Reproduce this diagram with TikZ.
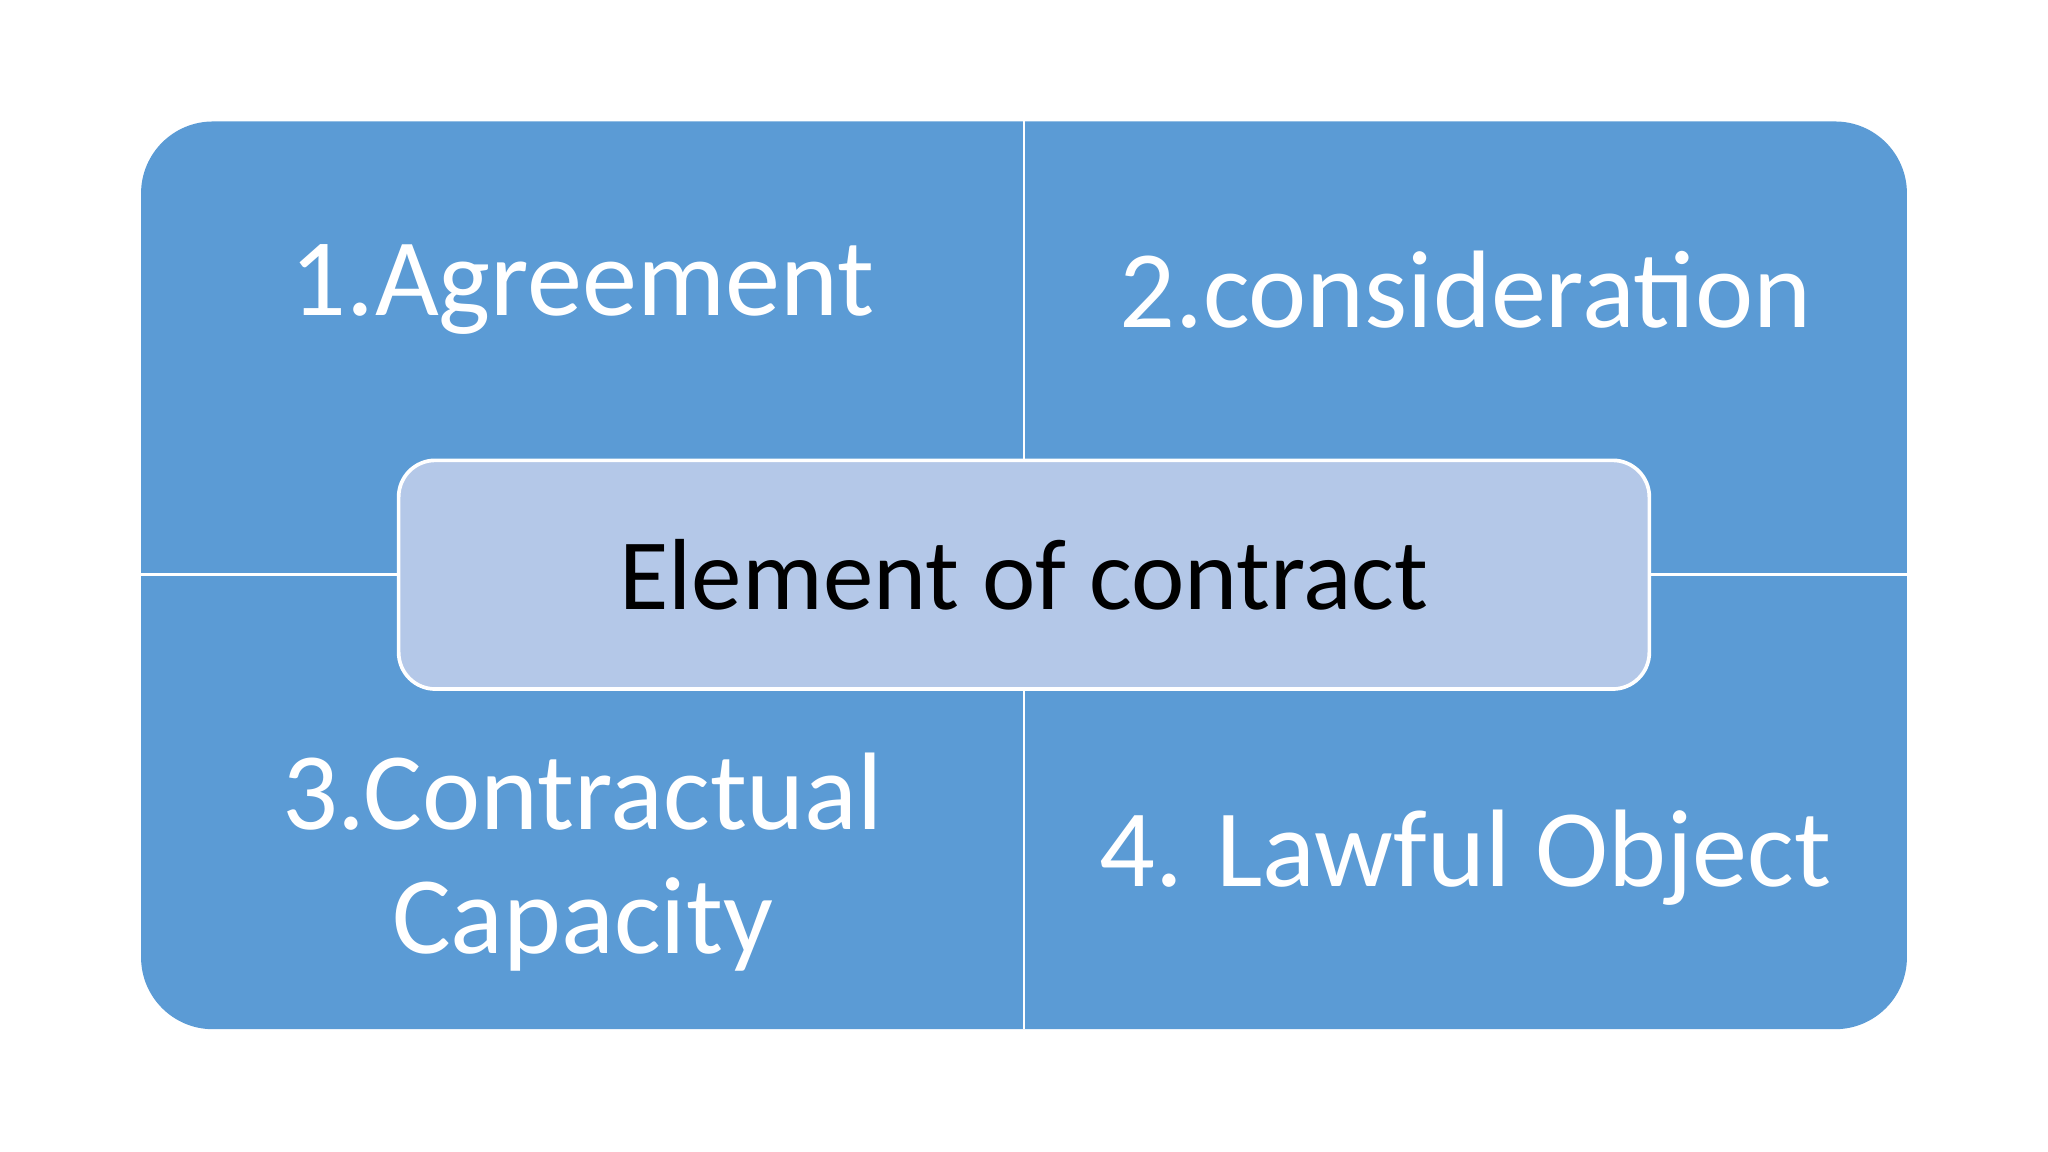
\documentclass[tikz,border=0pt]{standalone}
\usepackage{fontspec}
\setmainfont{Carlito}
\definecolor{qblue}{HTML}{5B9BD5}
\definecolor{cblue}{HTML}{B4C8E8}
\begin{document}
\begin{tikzpicture}[x=0.01cm,y=-0.01cm,
  qtext/.style={text=white,font=\fontsize{24}{27}\selectfont,align=center},
  divider/.style={white,line width=0.6pt}]
\useasboundingbox (0,0) rectangle (1568,882);
\fill[qblue,rounded corners=0.55cm] (108,93) rectangle (1460,788);
\coordinate (top) at (784,93);
\coordinate (bot) at (784,788);
\coordinate (lft) at (108,440);
\coordinate (rgt) at (1460,440);
\draw[divider] (top) -- (bot);
\draw[divider] (lft) -- (rgt);
\node[draw=white,line width=0.8pt,fill=cblue,rounded corners=0.28cm,minimum width=9.57cm,minimum height=1.75cm,font=\fontsize{22}{26}\selectfont] (c) at (784,440) {Element of contract};
\node[qtext] (q1) at (446,222) {1.Agreement};
\node[qtext] (q2) at (1122,222) {2.consideration};
\node[qtext] (q3) at (446,660) {3.Contractual\\Capacity};
\node[qtext] (q4) at (1122,657) {4. Lawful Object};
\end{tikzpicture}
\end{document}
